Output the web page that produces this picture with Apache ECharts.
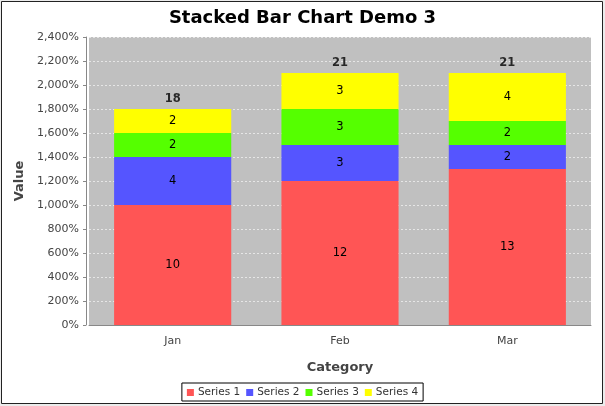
<!DOCTYPE html>
<html>
<head>
<meta charset="utf-8">
<script src="https://cdn.jsdelivr.net/npm/echarts@6/dist/echarts.min.js"></script>
<style>
html,body{margin:0;padding:0;background:#ececec;}
#c{width:605px;height:406px;}
</style>
</head>
<body>
<div id="c"></div>
<script>
var categories = ['Jan', 'Feb', 'Mar'];
var seriesNames = ['Series 1', 'Series 2', 'Series 3', 'Series 4'];
var series1 = [10, 12, 13];
var series2 = [4, 3, 2];
var series3 = [2, 3, 2];
var series4 = [2, 3, 4];
var totals = [18, 21, 21];
var colors = ['#FF5555', '#5555FF', '#55FF00', '#FFFF00'];
var font = 'DejaVu Sans';

var allData = [series1, series2, series3, series4];
var chart = echarts.init(document.getElementById('c'));
var barSeries = allData.map(function (d, i) {
  return {
    name: seriesNames[i],
    type: 'bar',
    stack: 'all',
    data: d,
    barWidth: '70%',
    itemStyle: { color: colors[i] },
    label: { show: true, position: 'inside', color: '#000', fontFamily: font, fontSize: 11.5 }
  };
});
barSeries.push({
  name: 'total',
  type: 'scatter',
  data: totals,
  symbolSize: 0,
  silent: true,
  label: { show: true, position: 'top', distance: 4, color: '#000', fontFamily: font, fontSize: 11.5, fontWeight: 'bold',
    formatter: function (p) { return p.value; } },
  z: 5
});

chart.setOption({
  animation: false,
  backgroundColor: '#ececec',
  graphic: [{
    type: 'rect', z: -10, left: 1, top: 1,
    shape: { x: 0, y: 0, width: 601, height: 402 },
    style: { fill: '#ffffff', stroke: '#222', lineWidth: 1 }
  }],
  title: {
    text: 'Stacked Bar Chart Demo 3', left: 'center', top: 4,
    textStyle: { fontFamily: font, fontSize: 18, fontWeight: 'bold', color: '#000' }
  },
  legend: {
    data: seriesNames, bottom: 5, left: 'center',
    borderColor: '#000', borderWidth: 1, padding: [4, 5, 3, 5],
    itemWidth: 7, itemHeight: 7, itemGap: 6, icon: 'rect',
    textStyle: { fontFamily: font, fontSize: 10.5, color: '#333', padding: [0, 0, 0, -1] }
  },
  grid: { left: 89, right: 14, top: 37, bottom: 81, show: true, backgroundColor: '#C0C0C0', borderWidth: 0 },
  xAxis: {
    type: 'category', data: categories, offset: 4,
    name: 'Category', nameLocation: 'middle', nameGap: 32,
    nameTextStyle: { fontFamily: font, fontSize: 13, fontWeight: 'bold', color: '#444' },
    axisLine: { lineStyle: { color: '#888' } },
    axisTick: { alignWithLabel: true, length: 3, lineStyle: { color: '#888' } },
    axisLabel: { fontFamily: font, fontSize: 11, color: '#444', margin: 7 },
    splitLine: { show: false }
  },
  yAxis: {
    type: 'value', min: 0, max: 24, interval: 2, offset: 3,
    name: 'Value', nameLocation: 'middle', nameGap: 57, nameRotate: 90,
    nameTextStyle: { fontFamily: font, fontSize: 13, fontWeight: 'bold', color: '#444' },
    axisLine: { show: true, lineStyle: { color: '#888' } },
    axisTick: { show: true, length: 3, lineStyle: { color: '#888' } },
    axisLabel: { fontFamily: font, fontSize: 11, color: '#444', margin: 7,
      formatter: function (v) { return (v * 100).toLocaleString('en-US') + '%'; } },
    splitLine: { show: true, lineStyle: { color: '#f0f0f0', type: [2, 2], width: 0.8 } }
  },
  series: barSeries
});
</script>
</body>
</html>
